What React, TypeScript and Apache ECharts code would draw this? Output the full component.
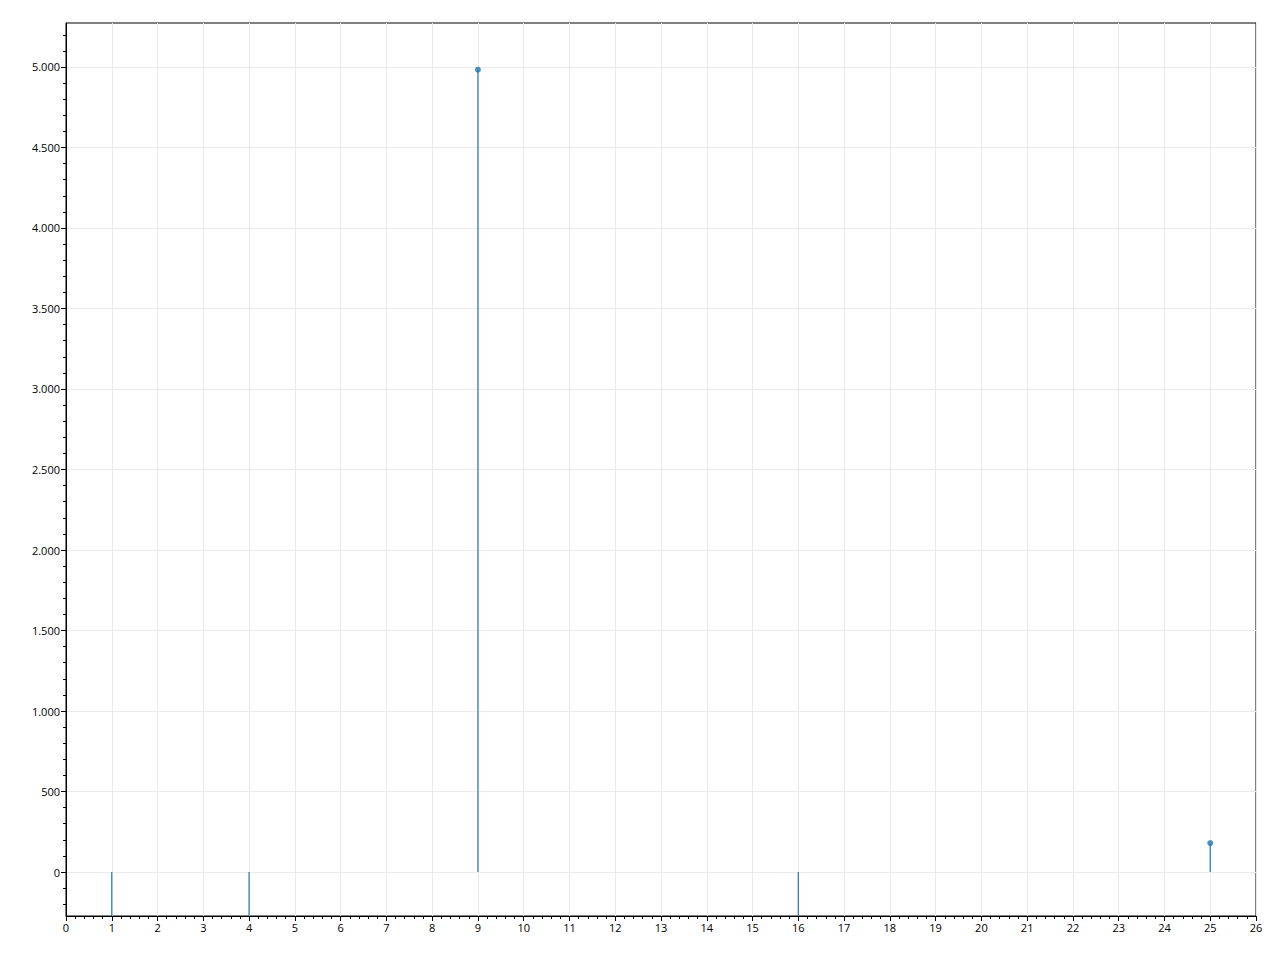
import React, { useEffect, useRef } from 'react';
import * as echarts from 'echarts';

// stem positions and values (1, 4, 16 fall below the visible range)
const xValues = [1, 4, 9, 16, 25];
const yValues = [-600, -600, 4983, -600, 180];
const yMajorTicks = [0, 500, 1000, 1500, 2000, 2500, 3000, 3500, 4000, 4500, 5000];
const yMinorTicks = [
  -200, -100, 100, 200, 300, 400, 600, 700, 800, 900, 1100, 1200, 1300, 1400,
  1600, 1700, 1800, 1900, 2100, 2200, 2300, 2400, 2600, 2700, 2800, 2900,
  3100, 3200, 3300, 3400, 3600, 3700, 3800, 3900, 4100, 4200, 4300, 4400,
  4600, 4700, 4800, 4900, 5100, 5200,
];
const yMin = -273;
const yMax = 5273;

const STEM = '#1f77b4';
const FONT = 'Open Sans';

const fmt = (v: number) => {
  const s = Math.abs(Math.round(v)).toString().replace(/\B(?=(\d{3})+(?!\d))/g, '.');
  return (v < 0 ? '-' : '') + s;
};

const App: React.FC = () => {
  const chartRef = useRef<HTMLDivElement>(null);

  useEffect(() => {
    const chart = echarts.init(chartRef.current as HTMLDivElement, undefined, { renderer: 'svg' });
    const points = xValues.map((x, i) => [x, yValues[i]]);

    chart.setOption({
      animation: false,
      grid: {
        left: 66, right: 24, top: 23, bottom: 44,
        show: true, borderColor: '#000', borderWidth: 1, backgroundColor: '#fff',
      },
      xAxis: {
        type: 'value', min: 0, max: 26, interval: 1,
        axisLine: { show: true, onZero: false, lineStyle: { color: '#000', width: 1 } },
        axisTick: { show: true, length: 5, lineStyle: { color: '#000' } },
        minorTick: { show: true, splitNumber: 5, length: 3, lineStyle: { color: '#000' } },
        axisLabel: { color: '#000', fontFamily: FONT, fontSize: 11, margin: 6 },
        splitLine: { show: true, lineStyle: { color: '#ebebeb', width: 1 } },
      },
      yAxis: [
        {
          type: 'value', min: yMin, max: yMax,
          axisLine: { show: true, onZero: false, lineStyle: { color: '#000', width: 1 } },
          axisTick: { show: true, length: 5, customValues: yMajorTicks, lineStyle: { color: '#000' } },
          axisLabel: {
            customValues: yMajorTicks, color: '#000', fontFamily: FONT, fontSize: 11, margin: 6,
            formatter: (v: number) => fmt(v),
          },
          splitLine: { show: true, lineStyle: { color: '#ebebeb', width: 1 } },
        },
        {
          type: 'value', min: yMin, max: yMax, position: 'left',
          axisLine: { show: false },
          axisTick: { show: true, length: 3, customValues: yMinorTicks, lineStyle: { color: '#000' } },
          axisLabel: { show: false },
          splitLine: { show: false },
        },
      ],
      series: [
        {
          type: 'custom',
          clip: true,
          data: points,
          renderItem: (params: any, api: any) => {
            const base = api.coord([api.value(0), 0]);
            const top = api.coord([api.value(0), api.value(1)]);
            return {
              type: 'line',
              shape: { x1: base[0], y1: base[1], x2: top[0], y2: top[1] },
              style: { stroke: STEM, lineWidth: 1.2 },
            };
          },
          z: 2,
        },
        {
          type: 'scatter',
          data: points,
          symbol: 'circle',
          symbolSize: 6,
          clip: true,
          itemStyle: { color: STEM },
          z: 3,
        },
      ],
    });

    return () => {
      chart.dispose();
    };
  }, []);

  return (
    <div
      ref={chartRef}
      style={{ position: 'fixed', left: 0, top: 0, width: '1280px', height: '960px', background: '#fff' }}
    ></div>
  );
};

export default App;
